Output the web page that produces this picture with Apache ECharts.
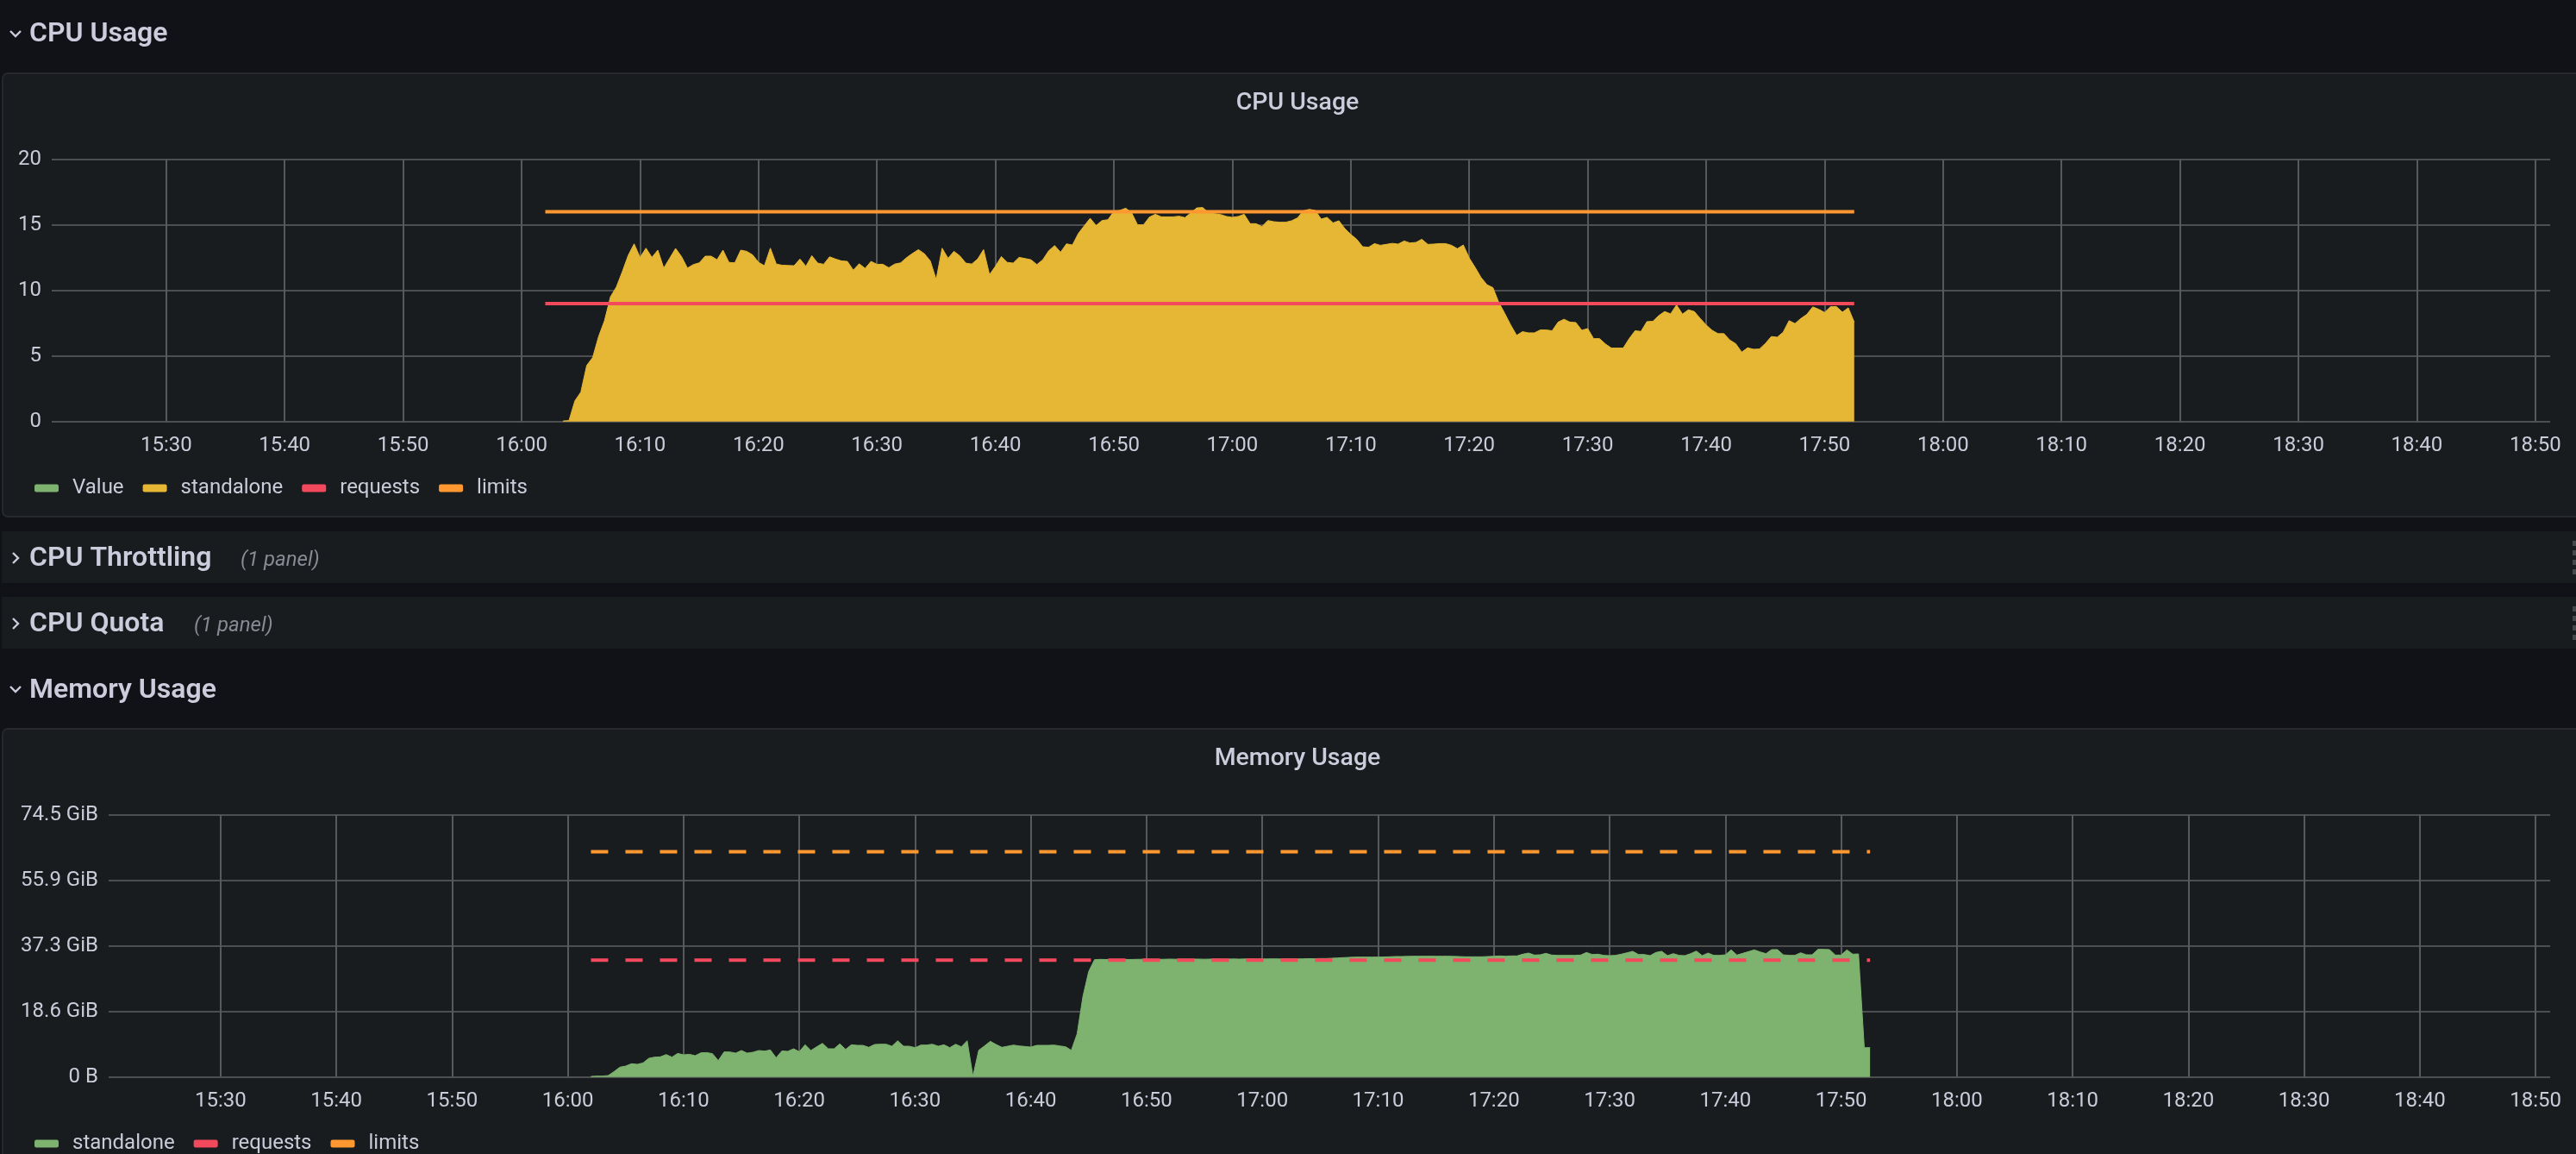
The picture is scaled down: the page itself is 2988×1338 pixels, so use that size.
<!DOCTYPE html>
<html>
<head>
<meta charset="utf-8">
<style>html,body{margin:0;padding:0;background:#111217}#c{width:2988px;height:1338px}</style>
<script src="https://cdn.jsdelivr.net/npm/echarts@6/dist/echarts.min.js"></script>
</head>
<body>
<div id="c"></div>
<script>
const cpuTickLabels = ['0','5','10','15','20'];
const cpuTickStep = 5;
const memTickLabels = ['0 B','18.6 GiB','37.3 GiB','55.9 GiB','74.5 GiB'];
const memTickStep = 18.625;
const axisStart = '15:20:20';
const axisEnd = '18:51:15';
const limitStart = '16:02:00';
const limitEnd = '17:52:30';
const cpuFirstSample = '16:03:30';
const memFirstSample = '16:02:00';
const sampleSeconds = 30;
const cpuRequests = 9;
const cpuLimits = 16;
const memRequests = 33.2;
const memLimits = 64;

const cpuStandalone = [0.04,0.07,1.58,2.24,4.28,4.88,6.48,7.69,9.51,10.26,11.42,12.67,13.55,12.52,13.22,12.52,13.07,11.70,12.45,13.20,
12.58,11.70,11.97,12.10,12.61,12.61,12.34,13.07,12.14,12.10,13.07,12.98,12.71,12.14,11.88,13.22,12.01,11.92,11.90,11.88,
12.39,11.84,12.65,12.08,11.99,12.56,12.39,12.25,12.21,11.55,12.03,11.68,12.21,11.99,11.99,11.73,12.01,12.10,12.50,12.82,
13.11,12.80,12.25,10.83,13.22,12.45,12.98,12.63,12.08,12.01,12.39,13.11,11.20,11.84,12.58,12.14,12.08,12.52,12.43,12.34,
11.97,12.34,13.02,13.42,12.91,13.55,13.46,14.34,14.93,15.50,14.95,15.33,15.39,16.03,16.10,16.27,15.92,15.00,15.00,15.59,
15.81,15.61,15.61,15.61,15.66,15.55,15.92,16.29,16.32,15.92,15.85,15.79,15.64,15.57,15.64,15.81,15.09,15.09,14.87,15.33,
15.24,15.20,15.20,15.31,15.53,16.07,16.18,16.10,15.44,15.57,15.15,15.31,14.71,14.27,13.90,13.33,13.29,13.57,13.44,13.51,
13.59,13.53,13.77,13.62,13.66,13.90,13.51,13.53,13.57,13.57,13.44,13.18,13.46,12.47,11.75,10.98,10.43,10.21,9.07,8.24,
7.36,6.57,6.85,6.76,6.76,6.98,6.98,6.92,7.58,7.80,7.58,7.55,6.96,7.09,6.32,6.32,5.91,5.60,5.60,5.60,
6.32,6.92,6.87,7.62,7.64,8.08,8.39,8.21,8.89,8.19,8.52,8.39,7.86,7.36,6.96,6.70,6.70,6.21,5.93,5.29,
5.62,5.51,5.53,5.95,6.48,6.43,6.81,7.69,7.47,7.86,8.17,8.74,8.56,8.32,8.76,8.76,8.34,8.67,7.58];

const memStandalone = [0.16,0.25,0.25,0.41,1.55,2.78,3.10,3.76,3.59,4.00,5.31,5.64,5.72,6.37,5.64,6.70,6.29,6.45,6.05,6.86,
6.94,6.62,4.66,7.11,7.11,6.78,7.52,6.78,7.03,7.52,7.35,7.68,5.47,7.43,7.27,8.01,7.19,9.15,7.52,8.58,
9.56,8.01,8.01,9.40,7.84,9.15,8.99,8.99,8.42,9.23,9.31,9.31,8.74,10.29,8.74,8.74,8.33,9.07,9.07,9.31,
8.74,9.15,8.33,9.31,8.58,10.29,0.25,7.60,8.82,10.13,9.23,8.42,8.74,9.07,8.82,8.66,8.50,8.99,8.99,8.99,
9.07,8.82,8.58,7.60,12.26,22.88,29.98,33.33,
33.42,33.38,33.42,33.45,33.42,33.38,33.42,33.45,33.50,33.45,33.42,33.45,33.50,
33.46,33.50,33.46,33.50,33.50,33.46,33.50,33.54,33.50,33.50,33.54,33.50,33.54,33.54,33.50,33.54,
33.54,33.58,33.54,33.58,33.58,33.54,33.58,33.62,33.62,33.66,33.66,33.74,33.82,33.91,33.99,34.07,
34.07,34.07,34.07,34.07,34.11,34.15,34.23,34.23,34.27,34.31,34.31,34.31,34.31,34.31,34.31,34.31,
34.27,34.23,34.15,34.15,34.15,34.15,34.23,34.31,34.40,34.31,34.40,34.40,
34.89,35.21,34.64,34.72,35.13,34.64,34.56,34.56,34.56,34.56,34.64,35.38,34.80,34.89,34.56,34.48,
34.56,34.89,35.29,35.70,34.80,34.80,34.48,35.38,35.70,34.48,35.05,34.56,34.48,35.05,35.78,34.48,35.21,34.56,34.56,34.72,
36.11,34.64,35.13,35.62,36.11,35.54,35.05,36.19,36.19,34.72,34.56,34.56,35.29,34.72,34.72,36.27,36.27,36.19,34.64,34.64,
36.11,34.89,34.97,8.33,8.33];

const COL = {bg:'#111217', panel:'#181c1f', border:'#26282d', text:'#cbcbda', title:'#ccccdc', muted:'#8a8a94', gridH:'#4c4e50', gridV:'#58595b',
  yellow:'#e6b735', green:'#7eb26f', red:'#f2495c', orange:'#ff9830', handle:'#45474a'};
const FONT = 'Roboto';

function at(s){ const p = s.split(':').map(Number); return new Date(2023,0,1,p[0],p[1],p[2]).getTime(); }
function withTimes(first, values){ const t0 = at(first); return values.map((v,i)=>[t0 + i*sampleSeconds*1000, v]); }
function flat(v){ return [[at(limitStart), v],[at(limitEnd), v]]; }

function xAxis(gridIndex){
  return {type:'time', gridIndex, min:at(axisStart), max:at(axisEnd), minInterval:660000, maxInterval:660000,
    axisLine:{show:false}, axisTick:{show:false},
    axisLabel:{color:COL.text, fontFamily:FONT, fontSize:24, margin:16, formatter:'{HH}:{mm}', hideOverlap:false, showMinLabel:false, showMaxLabel:false},
    splitLine:{show:true, showMinLine:false, showMaxLine:false, lineStyle:{color:COL.gridV, width:2}}};
}
function yAxis(gridIndex, max, step, labels){
  return {type:'value', gridIndex, min:0, max, interval:step,
    axisLine:{show:false}, axisTick:{show:false},
    axisLabel:{color:COL.text, fontFamily:FONT, fontSize:24, margin:12, formatter:v=>labels[Math.round(v/step)]},
    splitLine:{show:true, lineStyle:{color:COL.gridH, width:2}}};
}
function area(name, data, color, idx){
  return {name, type:'line', xAxisIndex:idx, yAxisIndex:idx, data, showSymbol:false, smooth:false, sampling:null, z:2,
    lineStyle:{color, width:1}, itemStyle:{color}, areaStyle:{color, opacity:1}};
}
function level(name, data, color, idx, dashed){
  return {name, type:'line', xAxisIndex:idx, yAxisIndex:idx, data, showSymbol:false, z:3,
    lineStyle:{color, width:4, type:dashed?[20,20]:'solid', cap:'butt'}, itemStyle:{color}};
}
function legend(top, names, colors){
  return {left:40, top, padding:0, orient:'horizontal', itemWidth:28, itemHeight:9, itemGap:22, icon:'roundRect', selectedMode:false,
    textStyle:{color:COL.text, fontFamily:FONT, fontSize:24, padding:[0,0,0,11]},
    data:names.map((n,i)=>({name:n, icon:'roundRect', itemStyle:{color:colors[i]}}))};
}
function txt(x,y,text,opt){
  return {type:'text', x, y, silent:true, z:-1, style:Object.assign({text, fill:COL.title, fontFamily:FONT, fontSize:32, fontWeight:600, textVerticalAlign:'middle'}, opt||{})};
}
function rect(x,y,w,h,fill,extra){
  return Object.assign({type:'rect', silent:true, z:-2, shape:Object.assign({x,y,width:w,height:h}, (extra&&extra.shape)||{}), style:Object.assign({fill}, (extra&&extra.style)||{})});
}
function chev(points){
  return {type:'polyline', silent:true, z:-1, shape:{points}, style:{fill:'none', stroke:COL.title, lineWidth:2.4}};
}
const handles = [];
[630,641,652,663,706,717,728,739].forEach(y=>handles.push(rect(2984,y-3,5,6,COL.handle)));

const graphicEls = [
  rect(3,85,2990,514,COL.panel,{shape:{r:6},style:{stroke:COL.border,lineWidth:2}}),
  rect(2,616,2990,60,COL.panel),
  rect(2,692,2990,60,COL.panel),
  rect(3,845,2990,600,COL.panel,{shape:{r:6},style:{stroke:COL.border,lineWidth:2}}),
  ...handles,
  chev([[12,36],[18,42],[24,36]]),
  chev([[15,641],[21,647],[15,653]]),
  chev([[15,717],[21,723],[15,729]]),
  chev([[12,796],[18,802],[24,796]]),
  txt(34,40,'CPU Usage'),
  txt(34,648,'CPU Throttling'),
  txt(279,650,'(1 panel)',{fontSize:24,fontStyle:'italic',fontWeight:400,fill:COL.muted}),
  txt(34,724,'CPU Quota'),
  txt(225,726,'(1 panel)',{fontSize:24,fontStyle:'italic',fontWeight:400,fill:COL.muted}),
  txt(34,801,'Memory Usage')
];

const titleStyle = {color:COL.title, fontFamily:FONT, fontSize:28.5, fontWeight:500};
const option = {
  animation:false,
  backgroundColor:COL.bg,
  tooltip:{show:false},
  title:[
    {text:'CPU Usage', left:1500, top:115, textAlign:'center', textVerticalAlign:'middle', textStyle:titleStyle},
    {text:'Memory Usage', left:1500, top:875, textAlign:'center', textVerticalAlign:'middle', textStyle:titleStyle}
  ],
  legend:[
    legend(554, ['Value','standalone','requests','limits'], [COL.green,COL.yellow,COL.red,COL.orange]),
    legend(1314, ['standalone','requests','limits'], [COL.green,COL.red,COL.orange])
  ],
  grid:[
    {left:60, top:184.7, width:2898, height:304, containLabel:false},
    {left:126, top:944.7, width:2832, height:304, containLabel:false}
  ],
  xAxis:[xAxis(0), xAxis(1)],
  yAxis:[yAxis(0,20,cpuTickStep,cpuTickLabels), yAxis(1,74.5,memTickStep,memTickLabels)],
  graphic:{elements:graphicEls},
  series:[
    {name:'Value', type:'line', xAxisIndex:0, yAxisIndex:0, data:[], showSymbol:false, itemStyle:{color:COL.green}, lineStyle:{color:COL.green}},
    area('standalone', withTimes(cpuFirstSample, cpuStandalone), COL.yellow, 0),
    level('requests', flat(cpuRequests), COL.red, 0, false),
    level('limits', flat(cpuLimits), COL.orange, 0, false),
    area('standalone', withTimes(memFirstSample, memStandalone), COL.green, 1),
    level('requests', flat(memRequests), COL.red, 1, true),
    level('limits', flat(memLimits), COL.orange, 1, true)
  ]
};
const chart = echarts.init(document.getElementById('c'), null, {renderer:'canvas', width:2988, height:1338});
chart.setOption(option);
</script>
</body>
</html>
